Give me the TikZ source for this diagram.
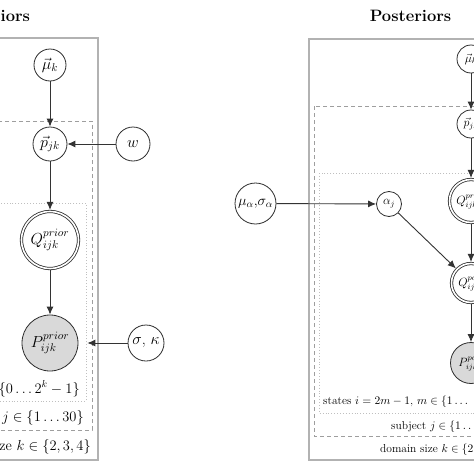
\RequirePackage{fix-cm}
\documentclass[tikz,border=0pt]{standalone}
\usepackage{fontspec}
\usetikzlibrary{arrows.meta}
\begin{document}
\begin{tikzpicture}[x=1pt,y=-1pt,
  rv/.style={circle,draw=black!82,line width=0.8pt,inner sep=0pt,text=black},
  obs/.style={rv,fill=black!15},
  det/.style={rv,double,double distance=1.6pt,outer sep=1.6pt},
  edge/.style={draw=black!80,line width=0.9pt,-{Latex[length=8pt,width=7pt]}},
  outerplate/.style={draw=black!30,line width=1.1pt},
  midplate/.style={draw=black!38,line width=0.9pt,dash pattern=on 4pt off 3pt},
  innerplate/.style={draw=black!25,line width=0.9pt,dotted},
  lblL/.style={font=\fontsize{14.5}{16}\selectfont,text=black,inner sep=0pt},
  lblR/.style={font=\fontsize{11.5}{13}\selectfont,text=black,inner sep=0pt},
  ttl/.style={font=\fontsize{16.5}{19}\selectfont\bfseries,inner sep=0pt},
  bigf/.style={font=\fontsize{16}{18}\selectfont},
  smallf/.style={font=\fontsize{12}{14}\selectfont},
  midf/.style={font=\fontsize{14.5}{16}\selectfont}]
\useasboundingbox (0,0) rectangle (474,474);
\clip (0,0) rectangle (474,474);
\fill[white] (0,0) rectangle (474,474);

% ---------- left panel (Priors) ----------
\node[ttl,anchor=base west] (tl) at (0.5,21) {iors};
\draw[outerplate] (-5,38) rectangle (98,460);
\draw[midplate] (-5,121) rectangle (92,430);
\draw[innerplate] (-5,203) rectangle (86,401);

\node[rv,bigf,minimum size=32pt] (muL) at (50,65) {$\vec{\mu}_k$};
\node[rv,bigf,minimum size=34pt] (pL) at (50,144) {$\vec{p}_{jk}$};
\node[rv,bigf,minimum size=34pt] (w) at (133,144) {$w$};
\node[det,bigf,minimum size=57pt] (QL) at (50,240) {$Q^{prior}_{ijk}$};
\node[obs,bigf,minimum size=56pt] (PL) at (50,343) {$P^{prior}_{ijk}$};
\node[rv,bigf,minimum size=36pt] (sk) at (146,343) {$\sigma$, $\kappa$};

\draw[edge] (muL) -- (pL);
\draw[edge] (w) -- (pL);
\draw[edge] (pL) -- (QL);
\draw[edge] (QL) -- (PL);
\draw[edge,shorten >=9pt] (sk) -- (PL);

\node[lblL,anchor=base east] (l1) at (80,393) {$\{0\dots2^k-1\}$};
\node[lblL,anchor=base east] (l2) at (84,421) {$j\in\{1\dots30\}$};
\node[lblL,anchor=base east] (l3) at (91,450) {ze $k\in\{2,3,4\}$};

% ---------- right panel (Posteriors) ----------
\node[ttl,anchor=base] (tr) at (410.5,21) {Posteriors};
\draw[outerplate] (309,39) rectangle (490,460);
\draw[midplate] (314,106) rectangle (484,436);
\draw[innerplate] (319,173) rectangle (478,413);

\node[rv,smallf,minimum size=28pt] (muR) at (471,59) {$\vec{\mu}_k$};
\node[rv,smallf,minimum size=28pt] (pR) at (471,124) {$\vec{p}_{jk}$};
\node[det,smallf,minimum size=43pt] (QR) at (471,201) {$Q^{prior}_{ijk}$};
\node[det,smallf,minimum size=39pt] (QP) at (471,283) {$Q^{post}_{ijk}$};
\node[obs,smallf,minimum size=41pt] (PP) at (471,363) {$P^{post}_{ijk}$};
\node[rv,midf,minimum size=41pt] (musa) at (255.5,203.5) {$\mu_\alpha{,}\sigma_\alpha$};
\node[rv,smallf,minimum size=25pt] (al) at (389,204) {$\alpha_j$};

\draw[edge] (muR) -- (pR);
\draw[edge] (pR) -- (QR);
\draw[edge] (QR) -- (QP);
\draw[edge] (QP) -- (PP);
\draw[edge] (musa) -- (al);
\draw[edge] (al) -- (QP);

\node[lblR,anchor=base west] (r1) at (323,404) {states $i=2m-1$, $m\in\{1\dots$};
\node[lblR,anchor=base west] (r2) at (391,429) {subject $j\in\{1\dots$};
\node[lblR,anchor=base west] (r3) at (380,452) {domain size $k\in\{2$};
\end{tikzpicture}
\end{document}
